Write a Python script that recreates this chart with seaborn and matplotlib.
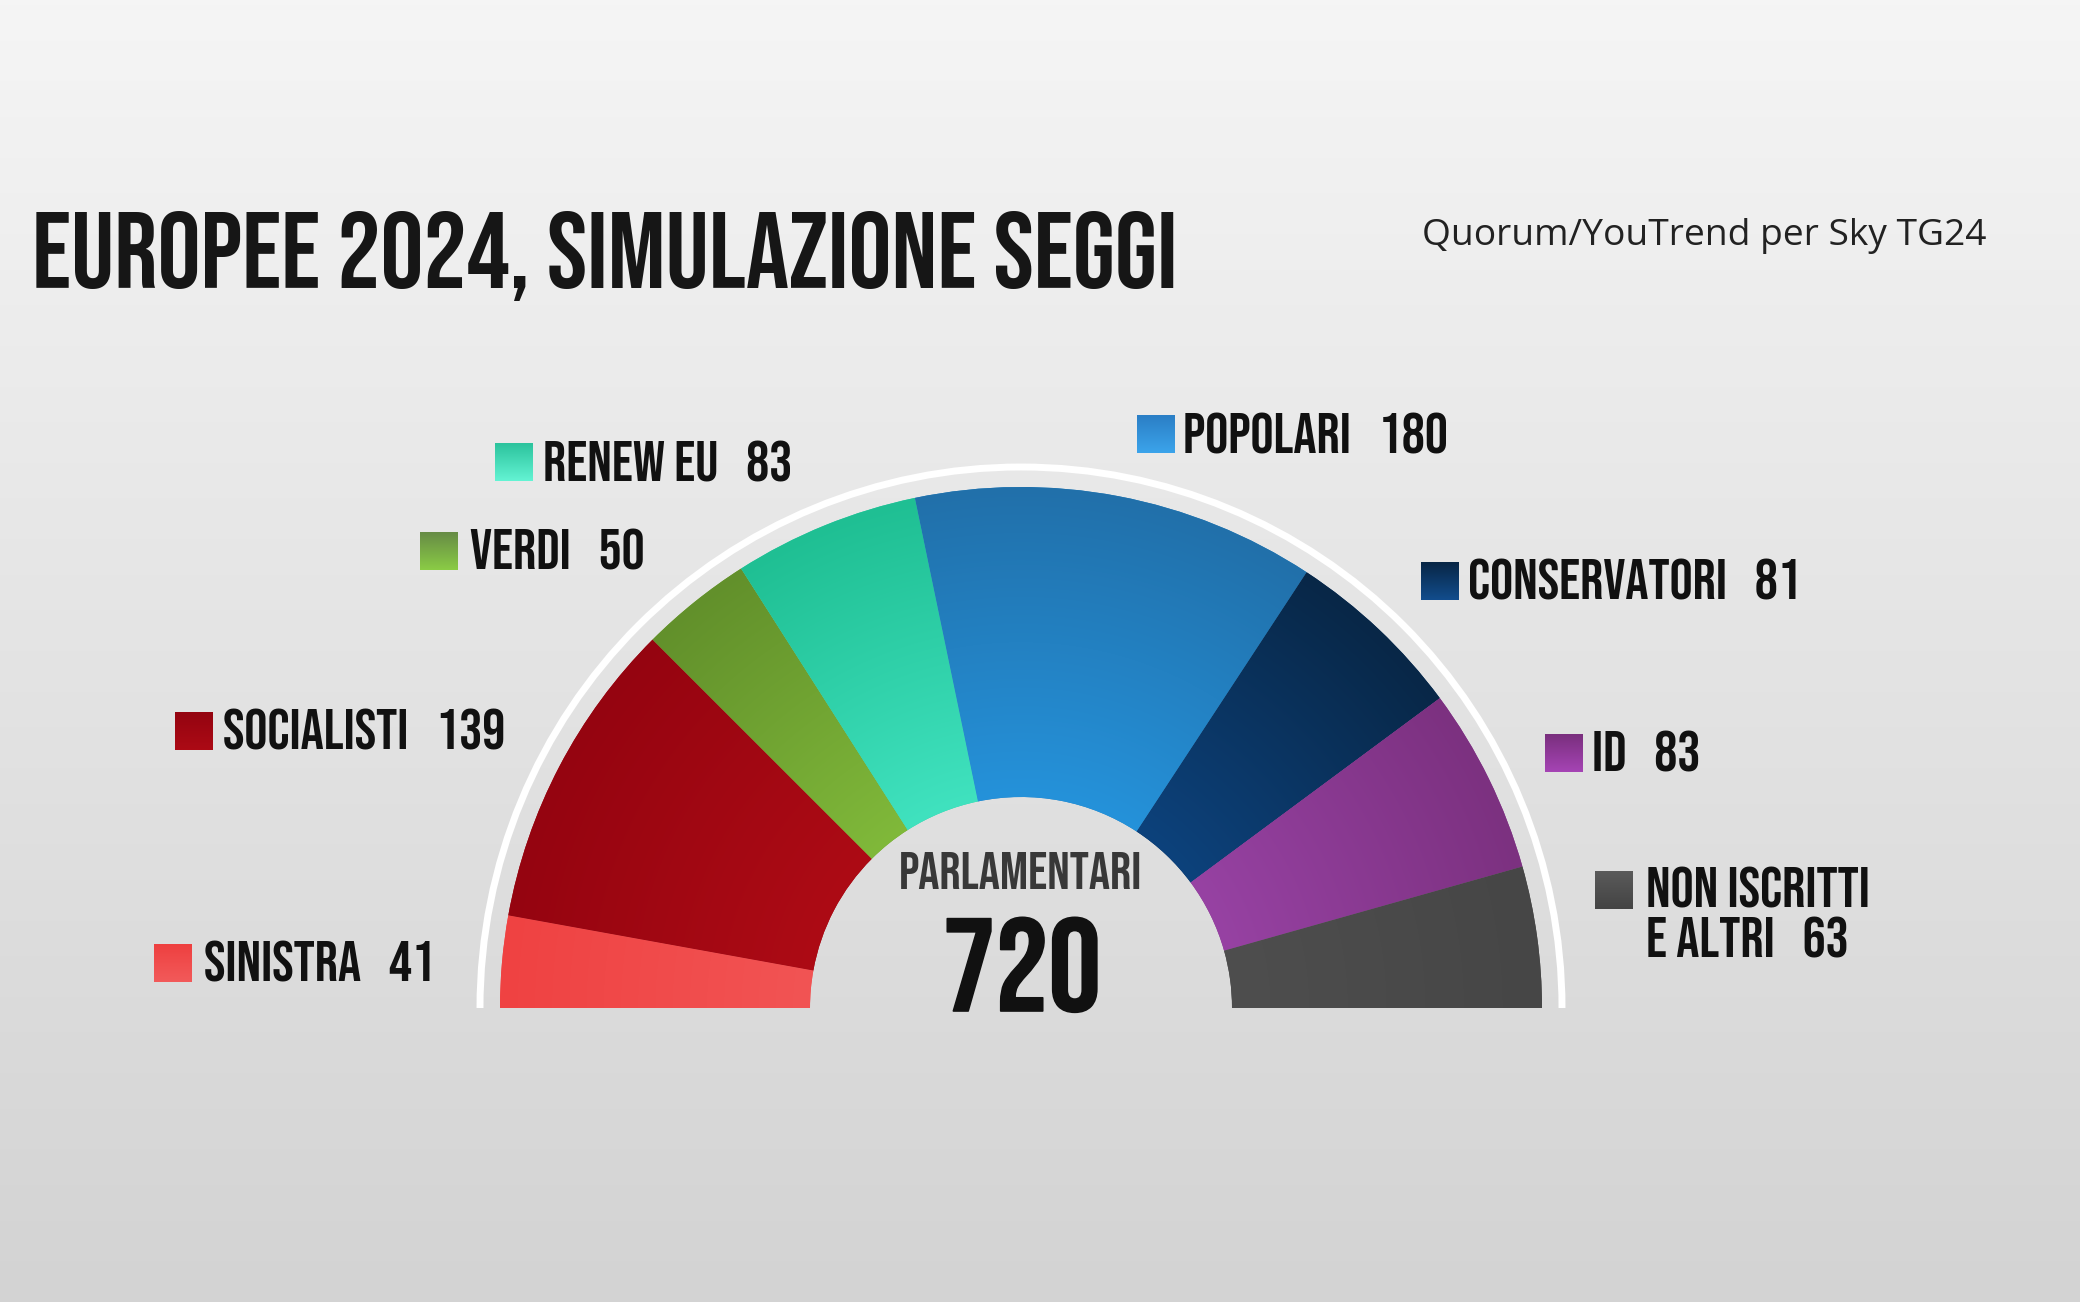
import numpy as np
import matplotlib
matplotlib.use('Agg')
import matplotlib.pyplot as plt
import matplotlib.patches as mpatches
import matplotlib.patheffects as pe
from matplotlib.colors import to_rgb
import seaborn as sns

# dati: simulazione seggi europee 2024
partiti = ['SINISTRA', 'SOCIALISTI', 'VERDI', 'RENEW EU', 'POPOLARI',
           'CONSERVATORI', 'ID', 'NON ISCRITTI\nE ALTRI']
seggi = [41, 139, 50, 83, 180, 81, 83, 63]

# colori (esterno / interno dello spicchio, alto / basso del quadratino)
col_esterno = ['#ef4242', '#950410', '#62902b', '#1fbf93', '#2170aa', '#082747', '#7c3180', '#464646']
col_interno = ['#f25454', '#ad0b15', '#80b93a', '#40e2bf', '#2592da', '#0d427c', '#9742a3', '#4e4e4e']
col_quad_alto = ['#ee4040', '#940410', '#678c45', '#2cc39d', '#2b7fc6', '#082746', '#7a2f7e', '#5a5a5a']
col_quad_basso = ['#f25a5a', '#ac0a15', '#8acb45', '#63f3d3', '#3ba3ea', '#124c8c', '#a544b4', '#444444']

sns.set_style('white')
plt.rcParams['font.family'] = ['Bebas Neue', 'DejaVu Sans']

W, H = 2080, 1302
fig = plt.figure(figsize=(W / 100, H / 100), dpi=100)
ax = fig.add_axes([0, 0, 1, 1])

# sfondo grigio sfumato
g = np.linspace(0, 1, 256)[:, None, None]
sfondo = np.array(to_rgb('#f5f5f5')) * (1 - g) + np.array(to_rgb('#d3d3d3')) * g
ax.imshow(sfondo, extent=[0, W, 0, H], origin='upper', aspect='auto', zorder=0)

# emiciclo
cx, cy = 1021, H - 1008
R, r = 521, 211
totale = sum(seggi)
col_pie = [sns.blend_palette([a, b], 3)[1] for a, b in zip(col_esterno, col_interno)]
wedges, _ = ax.pie(seggi + [totale], radius=R, center=(cx, cy), startangle=180,
                   counterclock=False, colors=col_pie + ['none'],
                   wedgeprops=dict(width=R - r, linewidth=0))
wedges[-1].set_visible(False)

# sfumatura radiale dentro ogni spicchio
xs = np.linspace(cx - R, cx + R, 700)
ys = np.linspace(cy, cy + R, 350)
X, Y = np.meshgrid(xs, ys)
t = np.clip((np.hypot(X - cx, Y - cy) - r) / (R - r), 0, 1)[..., None]
for w, ce, ci in zip(wedges[:-1], col_esterno, col_interno):
    img = np.array(to_rgb(ci)) * (1 - t) + np.array(to_rgb(ce)) * t
    im = ax.imshow(img, extent=[cx - R, cx + R, cy, cy + R], origin='lower',
                   zorder=2, interpolation='bilinear')
    im.set_clip_path(w)

# anello bianco
ax.add_patch(mpatches.Arc((cx, cy), 2 * 541, 2 * 541, theta1=0, theta2=180,
                          color='white', lw=5, zorder=3))

# etichette: (x quadratino, y alto quadratino, x testo, baseline) in pixel dall'alto
pos_etichette = {
    'SINISTRA': (154, 944, 204, 982),
    'SOCIALISTI': (175, 712, 223, 750),
    'VERDI': (420, 532, 470, 570),
    'RENEW EU': (495, 443, 543, 481),
    'POPOLARI': (1137, 415, 1183, 453),
    'CONSERVATORI': (1421, 562, 1468, 600),
    'ID': (1545, 734, 1592, 771),
    'NON ISCRITTI\nE ALTRI': (1595, 871, 1646, 908),
}
lato = 38
for nome, n, ca, cb in zip(partiti, seggi, col_quad_alto, col_quad_basso):
    qx, qy, tx, by = pos_etichette[nome]
    gq = np.linspace(0, 1, 32)[:, None, None]
    quad = np.array(to_rgb(ca)) * (1 - gq) + np.array(to_rgb(cb)) * gq
    ax.imshow(quad, extent=[qx, qx + lato, H - qy - lato, H - qy], origin='upper',
              aspect='auto', zorder=4, interpolation='bilinear')
    righe = nome.split('\n')
    for i, riga in enumerate(righe):
        s = riga + ('   ' + str(n) if i == len(righe) - 1 else '')
        ax.text(tx, H - (by + 49 * i), s, fontsize=41.5, color='#111111',
                ha='left', va='baseline', zorder=5)

# testo centrale
ax.text(cx, H - 889, 'PARLAMENTARI', fontsize=38, color='#383838',
        ha='center', va='baseline', zorder=5)
ax.text(cx + 1, H - 1011, str(totale), fontsize=95, color='#111111',
        ha='center', va='baseline', zorder=5,
        path_effects=[pe.withStroke(linewidth=1.2, foreground='#111111')])

# titolo e fonte
ax.text(32, H - 288, 'EUROPEE 2024, SIMULAZIONE SEGGI', fontsize=77.5, color='#161616',
        ha='left', va='baseline', zorder=5)
ax.text(1422, H - 245, 'Quorum/YouTrend per Sky TG24', fontsize=26.7, color='#222222',
        ha='left', va='baseline', family=['Open Sans', 'DejaVu Sans'], zorder=5)

ax.set_xlim(0, W)
ax.set_ylim(0, H)
ax.set_aspect('equal')
ax.set_axis_off()

fig.savefig('out.png', dpi=100)
